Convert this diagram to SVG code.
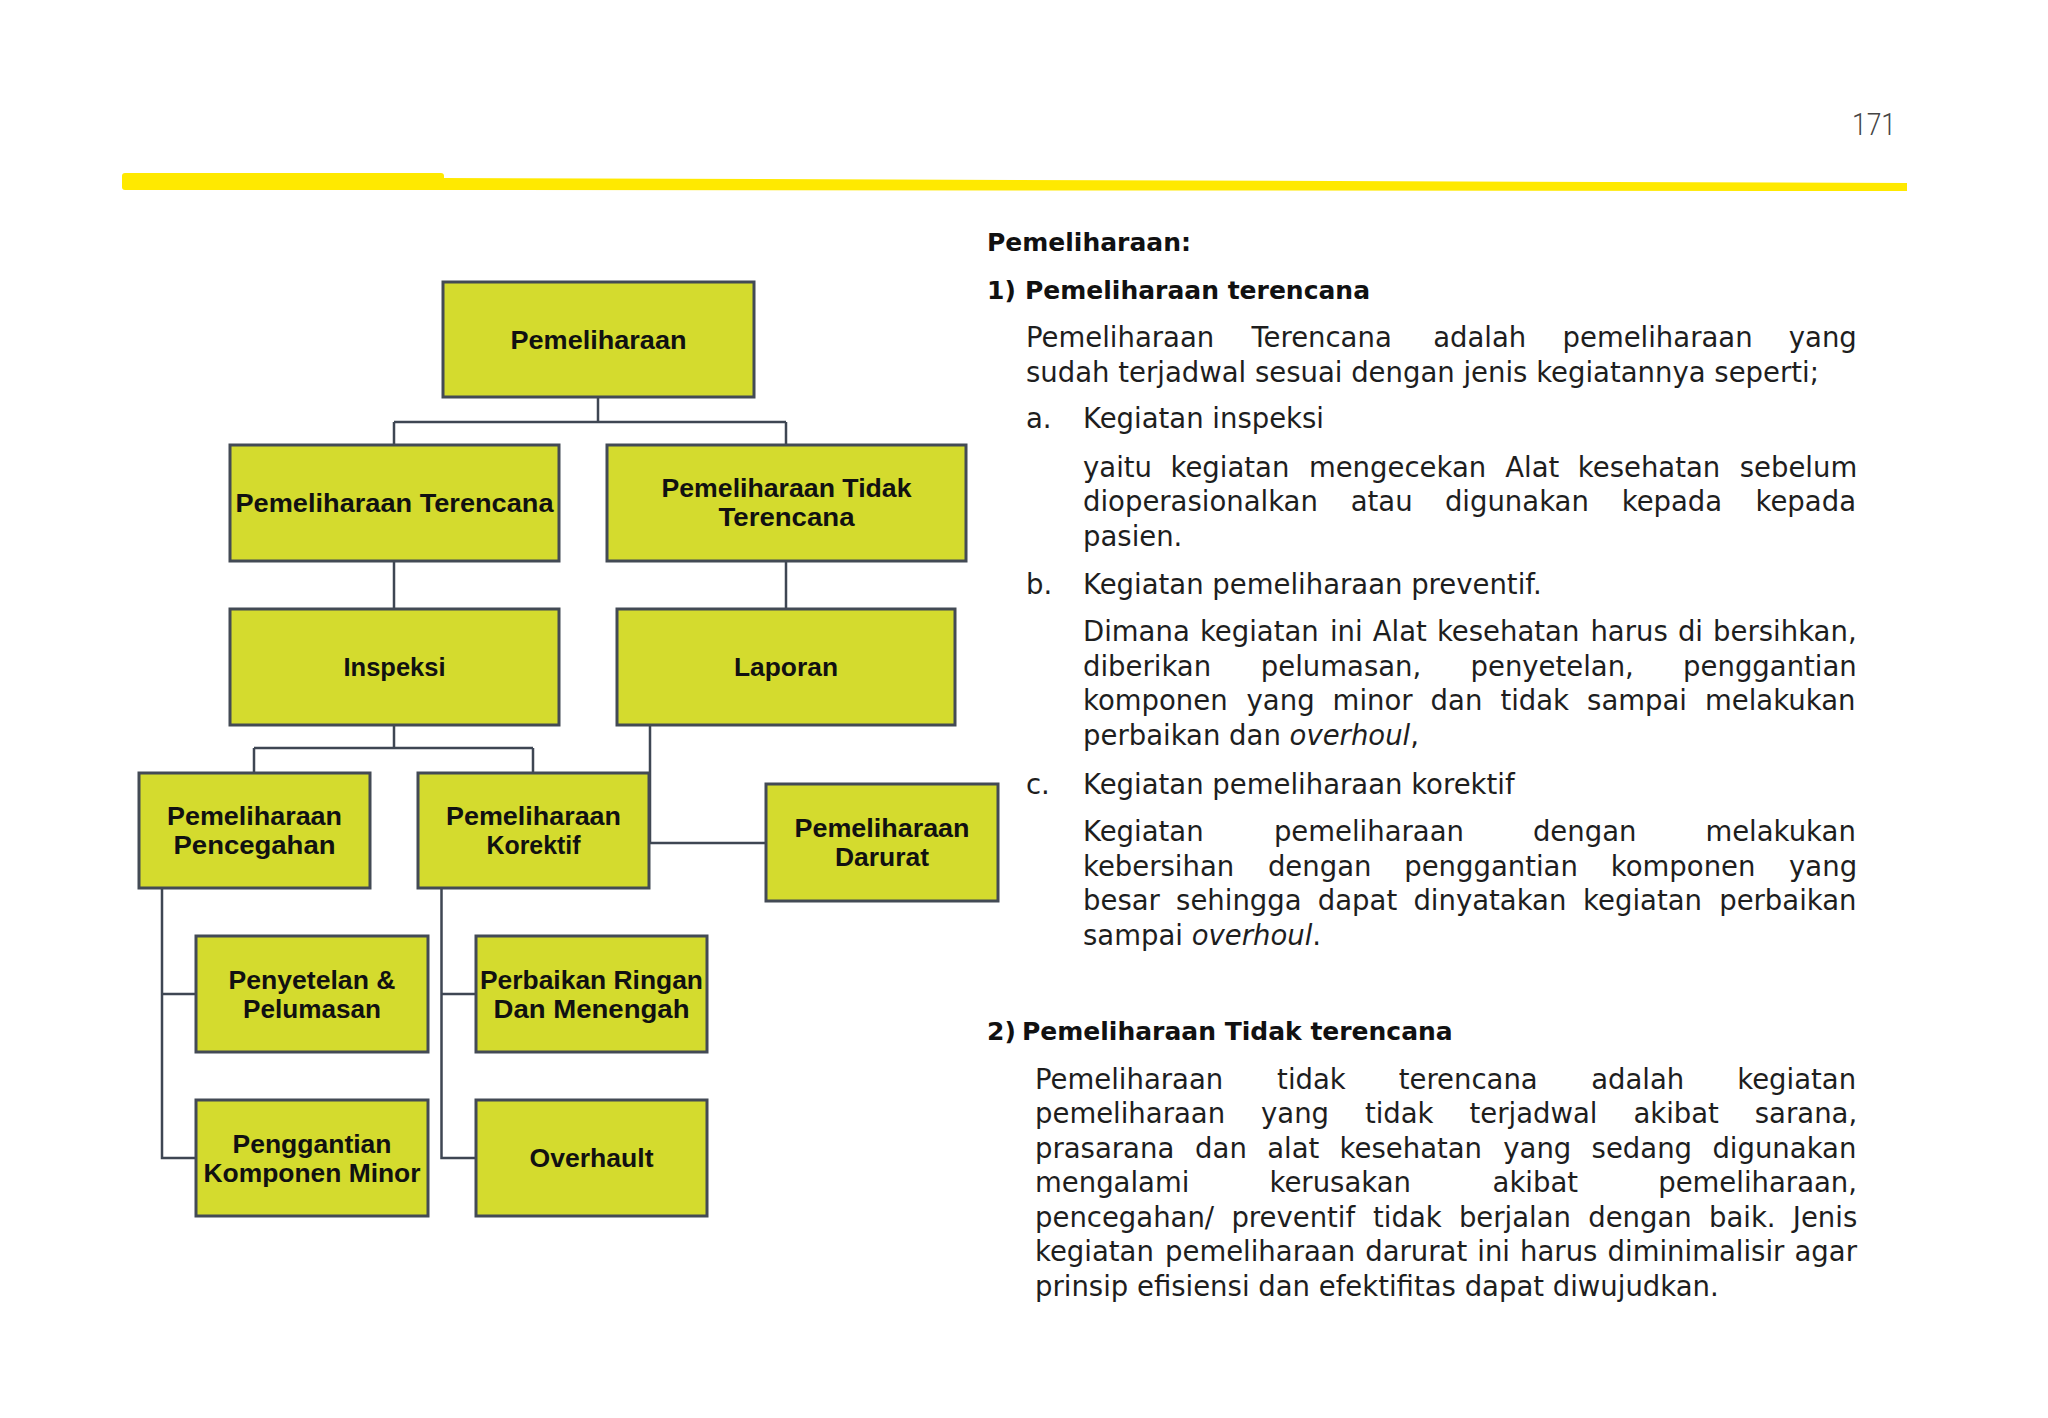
<svg xmlns="http://www.w3.org/2000/svg" width="2048" height="1418" viewBox="0 0 2048 1418">
<style>
  .box { fill: #D4DB2E; stroke: #434A55; stroke-width: 3; }
  .lbl { font-family: "Liberation Sans", Arial, sans-serif; font-weight: bold; font-size: 26.5px; fill: #111; text-anchor: middle; }
  .con { fill: none; stroke: #3E4653; stroke-width: 2.5; }
  .body { font-family: "DejaVu Sans", sans-serif; font-size: 27.5px; fill: #1e1e1e; }
  .head { font-family: "DejaVu Sans", sans-serif; font-weight: bold; font-size: 25px; fill: #111; }
  .it { font-style: italic; }
</style>
<rect width="2048" height="1418" fill="#ffffff"/>

<!-- header -->
<text x="1852" y="135" font-family="Roboto, sans-serif" font-weight="300" font-size="32" fill="#444" textLength="44" lengthAdjust="spacingAndGlyphs">171</text>
<rect x="122" y="173" width="322" height="17" rx="3" fill="#FFE900"/>
<polygon points="441,178 1907,183 1907,191 441,190" fill="#FFE900"/>

<!-- connectors -->
<g id="connectors">
  <path class="con" d="M598,397 V422 M394,422 H786 M394,422 V445 M786,422 V445"/>
  <path class="con" d="M394,561 V609 M786,561 V609"/>
  <path class="con" d="M394,725 V748 M254,748 H533 M254,748 V773 M533,748 V773"/>
  <path class="con" d="M650,725 V843 H766"/>
  <path class="con" d="M162,888 V1158 H196 M162,994 H196"/>
  <path class="con" d="M441.5,888 V1158 H476 M441.5,994 H476"/>
</g>

<!-- nodes -->
<g id="n-pemeliharaan"><rect class="box" x="443" y="282" width="311" height="115"/><text class="lbl" x="598.5" y="349" textLength="176" lengthAdjust="spacingAndGlyphs">Pemeliharaan</text></g>
<g id="n-terencana"><rect class="box" x="230" y="445" width="329" height="116"/><text class="lbl" x="394.5" y="512" textLength="318" lengthAdjust="spacingAndGlyphs">Pemeliharaan Terencana</text></g>
<g id="n-tidak-terencana"><rect class="box" x="607" y="445" width="359" height="116"/><text class="lbl" x="786.5" y="497" textLength="250" lengthAdjust="spacingAndGlyphs">Pemeliharaan Tidak</text><text class="lbl" x="786.5" y="526" textLength="136" lengthAdjust="spacingAndGlyphs">Terencana</text></g>
<g id="n-inspeksi"><rect class="box" x="230" y="609" width="329" height="116"/><text class="lbl" x="394.5" y="676" textLength="102" lengthAdjust="spacingAndGlyphs">Inspeksi</text></g>
<g id="n-laporan"><rect class="box" x="617" y="609" width="338" height="116"/><text class="lbl" x="786" y="676" textLength="104" lengthAdjust="spacingAndGlyphs">Laporan</text></g>
<g id="n-pencegahan"><rect class="box" x="139" y="773" width="231" height="115"/><text class="lbl" x="254.5" y="825" textLength="175" lengthAdjust="spacingAndGlyphs">Pemeliharaan</text><text class="lbl" x="254.5" y="854" textLength="162" lengthAdjust="spacingAndGlyphs">Pencegahan</text></g>
<g id="n-korektif"><rect class="box" x="418" y="773" width="231" height="115"/><text class="lbl" x="533.5" y="825" textLength="175" lengthAdjust="spacingAndGlyphs">Pemeliharaan</text><text class="lbl" x="533.5" y="854" textLength="94" lengthAdjust="spacingAndGlyphs">Korektif</text></g>
<g id="n-darurat"><rect class="box" x="766" y="784" width="232" height="117"/><text class="lbl" x="882" y="837" textLength="175" lengthAdjust="spacingAndGlyphs">Pemeliharaan</text><text class="lbl" x="882" y="866" textLength="94" lengthAdjust="spacingAndGlyphs">Darurat</text></g>
<g id="n-penyetelan"><rect class="box" x="196" y="936" width="232" height="116"/><text class="lbl" x="312" y="989" textLength="167" lengthAdjust="spacingAndGlyphs">Penyetelan &amp;</text><text class="lbl" x="312" y="1018" textLength="138" lengthAdjust="spacingAndGlyphs">Pelumasan</text></g>
<g id="n-penggantian"><rect class="box" x="196" y="1100" width="232" height="116"/><text class="lbl" x="312" y="1153" textLength="159" lengthAdjust="spacingAndGlyphs">Penggantian</text><text class="lbl" x="312" y="1182" textLength="217" lengthAdjust="spacingAndGlyphs">Komponen Minor</text></g>
<g id="n-perbaikan"><rect class="box" x="476" y="936" width="231" height="116"/><text class="lbl" x="591.5" y="989" textLength="223" lengthAdjust="spacingAndGlyphs">Perbaikan Ringan</text><text class="lbl" x="591.5" y="1018" textLength="196" lengthAdjust="spacingAndGlyphs">Dan Menengah</text></g>
<g id="n-overhault"><rect class="box" x="476" y="1100" width="231" height="116"/><text class="lbl" x="591.5" y="1167" textLength="124" lengthAdjust="spacingAndGlyphs">Overhault</text></g>

<!-- right text -->
<g id="text-column">
  <text class="head" x="987" y="251">Pemeliharaan:</text>
  <text class="head" y="299"><tspan x="987">1)</tspan><tspan x="1025">Pemeliharaan terencana</tspan></text>

  <text class="body" y="347"><tspan x="1026">Pemeliharaan</tspan><tspan x="1251.4">Terencana</tspan><tspan x="1433.2">adalah</tspan><tspan x="1562.5">pemeliharaan</tspan><tspan x="1788.8">yang</tspan></text>
  <text class="body" x="1026" y="382">sudah terjadwal sesuai dengan jenis kegiatannya seperti;</text>

  <text class="body" x="1026" y="428">a.</text>
  <text class="body" x="1083" y="428">Kegiatan inspeksi</text>
  <text class="body" y="477"><tspan x="1083">yaitu</tspan><tspan x="1170.5">kegiatan</tspan><tspan x="1308.9">mengecekan</tspan><tspan x="1505.2">Alat</tspan><tspan x="1577.8">kesehatan</tspan><tspan x="1739.7">sebelum</tspan></text>
  <text class="body" y="511"><tspan x="1083">dioperasionalkan</tspan><tspan x="1350.7">atau</tspan><tspan x="1444.9">digunakan</tspan><tspan x="1621.7">kepada</tspan><tspan x="1755.5">kepada</tspan></text>
  <text class="body" x="1083" y="546">pasien.</text>

  <text class="body" x="1026" y="594">b.</text>
  <text class="body" x="1083" y="594">Kegiatan pemeliharaan preventif.</text>
  <text class="body" y="641"><tspan x="1083">Dimana</tspan><tspan x="1199.9">kegiatan</tspan><tspan x="1329.9">ini</tspan><tspan x="1372.7">Alat</tspan><tspan x="1436.9">kesehatan</tspan><tspan x="1590.4">harus</tspan><tspan x="1677.9">di</tspan><tspan x="1713.1">bersihkan,</tspan></text>
  <text class="body" y="676"><tspan x="1083">diberikan</tspan><tspan x="1260.8">pelumasan,</tspan><tspan x="1470.5">penyetelan,</tspan><tspan x="1683.1">penggantian</tspan></text>
  <text class="body" y="710"><tspan x="1083">komponen</tspan><tspan x="1246.6">yang</tspan><tspan x="1332.6">minor</tspan><tspan x="1430.6">dan</tspan><tspan x="1500.4">tidak</tspan><tspan x="1587.1">sampai</tspan><tspan x="1705">melakukan</tspan></text>
  <text class="body" x="1083" y="745">perbaikan dan <tspan class="it">overhoul</tspan>,</text>

  <text class="body" x="1026" y="794">c.</text>
  <text class="body" x="1083" y="794">Kegiatan pemeliharaan korektif</text>
  <text class="body" y="841"><tspan x="1083">Kegiatan</tspan><tspan x="1273.9">pemeliharaan</tspan><tspan x="1532.9">dengan</tspan><tspan x="1705.4">melakukan</tspan></text>
  <text class="body" y="876"><tspan x="1083">kebersihan</tspan><tspan x="1267.9">dengan</tspan><tspan x="1404.2">penggantian</tspan><tspan x="1610.8">komponen</tspan><tspan x="1789.1">yang</tspan></text>
  <text class="body" y="910"><tspan x="1083">besar</tspan><tspan x="1176.1">sehingga</tspan><tspan x="1317.8">dapat</tspan><tspan x="1413.4">dinyatakan</tspan><tspan x="1583.1">kegiatan</tspan><tspan x="1719.2">perbaikan</tspan></text>
  <text class="body" x="1083" y="945">sampai <tspan class="it">overhoul</tspan>.</text>

  <text class="head" y="1040"><tspan x="987">2)</tspan><tspan x="1022">Pemeliharaan Tidak terencana</tspan></text>
  <text class="body" y="1089"><tspan x="1035">Pemeliharaan</tspan><tspan x="1277.1">tidak</tspan><tspan x="1398.7">terencana</tspan><tspan x="1591.2">adalah</tspan><tspan x="1737.2">kegiatan</tspan></text>
  <text class="body" y="1123"><tspan x="1035">pemeliharaan</tspan><tspan x="1261">yang</tspan><tspan x="1364.9">tidak</tspan><tspan x="1469.5">terjadwal</tspan><tspan x="1633.4">akibat</tspan><tspan x="1754.8">sarana,</tspan></text>
  <text class="body" y="1158"><tspan x="1035">prasarana</tspan><tspan x="1195.1">dan</tspan><tspan x="1267.2">alat</tspan><tspan x="1339.6">kesehatan</tspan><tspan x="1503.3">yang</tspan><tspan x="1591.6">sedang</tspan><tspan x="1712.4">digunakan</tspan></text>
  <text class="body" y="1192"><tspan x="1035">mengalami</tspan><tspan x="1269.5">kerusakan</tspan><tspan x="1492.6">akibat</tspan><tspan x="1658.2">pemeliharaan,</tspan></text>
  <text class="body" y="1227"><tspan x="1035">pencegahan/</tspan><tspan x="1231.4">preventif</tspan><tspan x="1373">tidak</tspan><tspan x="1458.9">berjalan</tspan><tspan x="1588.2">dengan</tspan><tspan x="1709">baik.</tspan><tspan x="1792.8">Jenis</tspan></text>
  <text class="body" y="1261"><tspan x="1035">kegiatan</tspan><tspan x="1165">pemeliharaan</tspan><tspan x="1365.2">darurat</tspan><tspan x="1477.3">ini</tspan><tspan x="1520.1">harus</tspan><tspan x="1607.6">diminimalisir</tspan><tspan x="1794.5">agar</tspan></text>
  <text class="body" x="1035" y="1296">prinsip efisiensi dan efektifitas dapat diwujudkan.</text>
</g>
</svg>
